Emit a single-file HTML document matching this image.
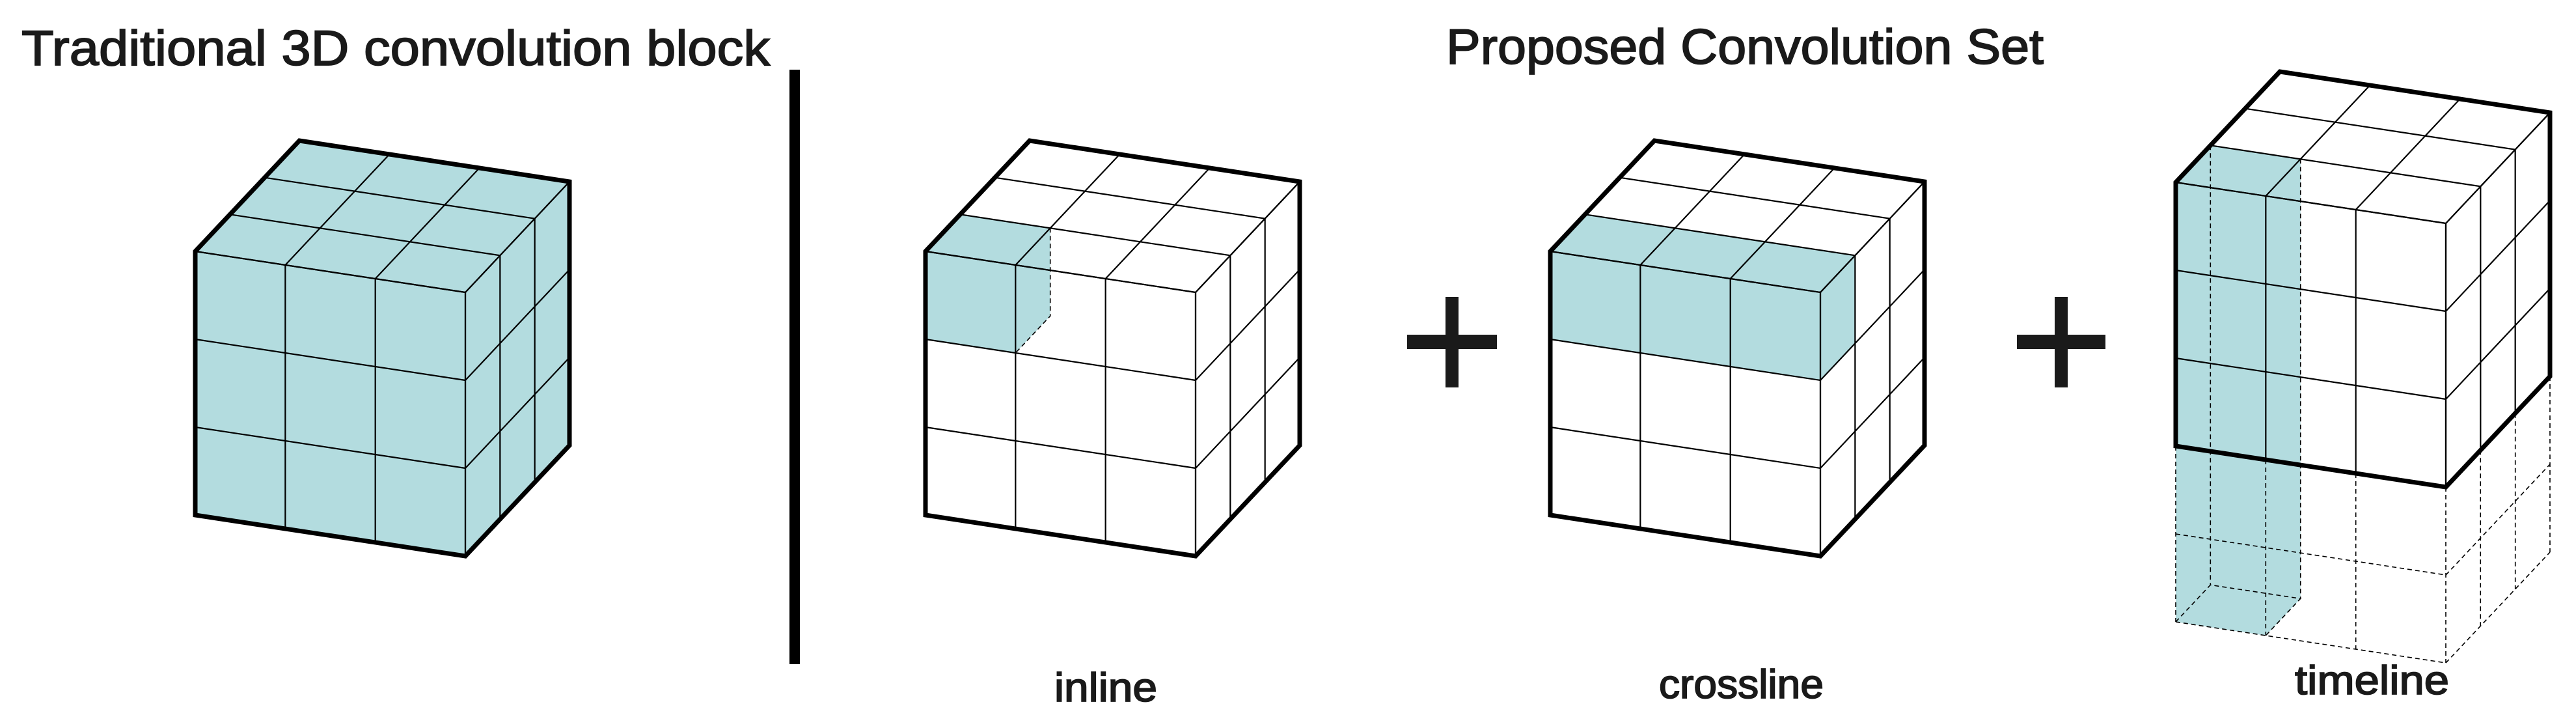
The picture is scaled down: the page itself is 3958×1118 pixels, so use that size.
<!DOCTYPE html>
<html><head><meta charset="utf-8"><style>
html,body{margin:0;padding:0;background:#fff;}
svg{display:block;}
text{font-family:"Liberation Sans",sans-serif;fill:#1a1a1a;stroke:#1a1a1a;stroke-width:1.8;}
</style></head><body>
<svg width="3958" height="1118" viewBox="0 0 3958 1118" xmlns="http://www.w3.org/2000/svg">
<defs>
<path id="g" d="M0 0H3V3H0Z M1 0V3M2 0V3M0 1H3M0 2H3" vector-effect="non-scaling-stroke"/>
</defs>
<rect width="3958" height="1118" fill="#fff"/>

<text x="33" y="100" font-size="76" textLength="1150" lengthAdjust="spacingAndGlyphs">Traditional 3D convolution block</text>
<text x="2222" y="98" font-size="76" textLength="918" lengthAdjust="spacingAndGlyphs">Proposed Convolution Set</text>
<text x="1620" y="1077" font-size="62" textLength="158" lengthAdjust="spacingAndGlyphs">inline</text>
<text x="2549" y="1072" font-size="62" textLength="253" lengthAdjust="spacingAndGlyphs">crossline</text>
<text x="3526" y="1066" font-size="62" textLength="237" lengthAdjust="spacingAndGlyphs">timeline</text>

<rect x="1213" y="107" width="16" height="913" fill="#000"/>
<rect x="2162" y="514" width="138" height="22" fill="#1a1a1a"/>
<rect x="2221" y="456" width="20" height="139" fill="#1a1a1a"/>
<rect x="3099" y="514" width="136" height="22" fill="#1a1a1a"/>
<rect x="3157" y="456" width="20" height="139" fill="#1a1a1a"/>

<g stroke-width="2.2">
<!-- cube 1 -->
<use href="#g" transform="matrix(138.333,21,0,135,300,386)" fill="#b3dcdf" stroke="none"/>
<use href="#g" transform="matrix(138.333,21,53.333,-56.667,300,386)" fill="#b3dcdf" stroke="none"/>
<use href="#g" transform="matrix(53.333,-56.667,0,135,715,449)" fill="#b3dcdf" stroke="none"/>
<use href="#g" transform="matrix(138.333,21,0,135,300,386)" fill="none" stroke="#000"/>
<use href="#g" transform="matrix(138.333,21,53.333,-56.667,300,386)" fill="none" stroke="#000"/>
<use href="#g" transform="matrix(53.333,-56.667,0,135,715,449)" fill="none" stroke="#000"/>

<!-- cube 2 -->
<use href="#g" transform="matrix(138.333,21,0,135,1422,386)" fill="#fff" stroke="none"/>
<use href="#g" transform="matrix(138.333,21,53.333,-56.667,1422,386)" fill="#fff" stroke="none"/>
<use href="#g" transform="matrix(53.333,-56.667,0,135,1837,449)" fill="#fff" stroke="none"/>
<polygon points="1422,386 1475.3,329.3 1613.7,350.3 1613.7,485.3 1560.3,542 1422,521" fill="#b3dcdf"/>
<use href="#g" transform="matrix(138.333,21,0,135,1422,386)" fill="none" stroke="#000"/>
<use href="#g" transform="matrix(138.333,21,53.333,-56.667,1422,386)" fill="none" stroke="#000"/>
<use href="#g" transform="matrix(53.333,-56.667,0,135,1837,449)" fill="none" stroke="#000"/>
<polyline points="1613.7,350.3 1613.7,485.3 1560.3,542" fill="none" stroke="#000" stroke-width="1.6" stroke-dasharray="7,5"/>

<!-- cube 3 -->
<use href="#g" transform="matrix(138.333,21,0,135,2382,386)" fill="#fff" stroke="none"/>
<use href="#g" transform="matrix(138.333,21,53.333,-56.667,2382,386)" fill="#fff" stroke="none"/>
<use href="#g" transform="matrix(53.333,-56.667,0,135,2797,449)" fill="#fff" stroke="none"/>
<polygon points="2382,386 2435.3,329.3 2850.3,392.3 2850.3,527.3 2797,584 2382,521" fill="#b3dcdf"/>
<use href="#g" transform="matrix(138.333,21,0,135,2382,386)" fill="none" stroke="#000"/>
<use href="#g" transform="matrix(138.333,21,53.333,-56.667,2382,386)" fill="none" stroke="#000"/>
<use href="#g" transform="matrix(53.333,-56.667,0,135,2797,449)" fill="none" stroke="#000"/>

<!-- cube 4 -->
<use href="#g" transform="matrix(138.333,21,0,135,3343,280)" fill="#fff" stroke="none"/>
<use href="#g" transform="matrix(138.333,21,53.333,-56.667,3343,280)" fill="#fff" stroke="none"/>
<use href="#g" transform="matrix(53.333,-56.667,0,135,3758,343)" fill="#fff" stroke="none"/>
<polygon points="3343,280 3396.3,223.3 3534.7,244.3 3534.7,919.3 3481.3,976 3343,955" fill="#b3dcdf"/>
<use href="#g" transform="matrix(138.333,21,0,135,3343,280)" fill="none" stroke="#000"/>
<use href="#g" transform="matrix(138.333,21,53.333,-56.667,3343,280)" fill="none" stroke="#000"/>
<use href="#g" transform="matrix(53.333,-56.667,0,135,3758,343)" fill="none" stroke="#000"/>
<g fill="none" stroke="#000" stroke-width="1.6" stroke-dasharray="7,5">
<line x1="3396.3" y1="223.3" x2="3396.3" y2="898.3"/>
<line x1="3534.7" y1="244.3" x2="3534.7" y2="919.3"/>
<polyline points="3343,955 3396.3,898.3 3534.7,919.3 3481.3,976"/>
<line x1="3343" y1="685" x2="3343" y2="955"/>
<line x1="3481.3" y1="706" x2="3481.3" y2="976"/>
<line x1="3619.7" y1="727" x2="3619.7" y2="997"/>
<line x1="3758" y1="748" x2="3758" y2="1018"/>
<line x1="3343" y1="820" x2="3758" y2="883"/>
<line x1="3343" y1="955" x2="3758" y2="1018"/>
<line x1="3811.3" y1="691.3" x2="3811.3" y2="961.3"/>
<line x1="3864.7" y1="634.7" x2="3864.7" y2="904.7"/>
<line x1="3918" y1="578" x2="3918" y2="848"/>
<line x1="3758" y1="883" x2="3918" y2="713"/>
<line x1="3758" y1="1018" x2="3918" y2="848"/>
</g>
</g>

<g fill="none" stroke="#000" stroke-width="7" stroke-linejoin="miter">
<polygon points="300,386 300,791 715,854 875,684 875,279 460,216"/>
<polygon points="1422,386 1422,791 1837,854 1997,684 1997,279 1582,216"/>
<polygon points="2382,386 2382,791 2797,854 2957,684 2957,279 2542,216"/>
<polygon points="3343,280 3343,685 3758,748 3918,578 3918,173 3503,110"/>
</g>
</svg>
</body></html>
